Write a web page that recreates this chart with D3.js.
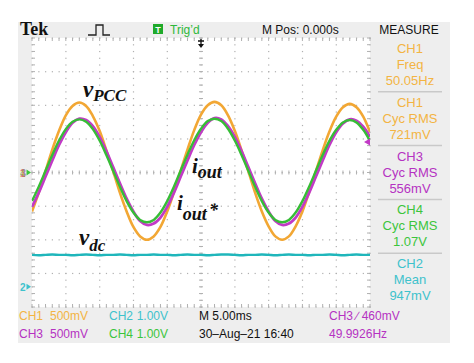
<!DOCTYPE html>
<html>
<head>
<meta charset="utf-8">
<script src="https://cdn.jsdelivr.net/npm/d3@7"></script>
<style>
  body { margin: 0; background: #fff; }
  svg { display: block; }
  .ui { font-family: "Liberation Sans Narrow", "Arial Narrow", "Liberation Sans", sans-serif; }
  .math { font-family: "Liberation Serif", "Times New Roman", serif; font-style: italic; font-weight: bold; }
</style>
</head>
<body>
<svg id="scope" width="474" height="363"></svg>
<script>
// time base, ms (10 div x 5 ms, M Pos 0)
var timeMs = [-25,-24,-23,-22,-21,-20,-19,-18,-17,-16,-15,-14,-13,-12,-11,-10,-9,-8,-7,-6,
  -5,-4,-3,-2,-1,0,1,2,3,4,5,6,7,8,9,10,11,12,13,14,15,16,17,18,19,20,21,22,23,24,25];

// CH1 v_pcc (V)
var ch1Volts = [-0.58,-0.30,0.02,0.34,0.62,0.85,0.99,1.04,0.99,0.84,0.62,0.33,0.02,-0.30,-0.58,-0.81,-0.95,-1.00,-0.95,-0.81,
  -0.58,-0.29,0.03,0.34,0.63,0.86,1.00,1.05,1.00,0.85,0.62,0.33,0.02,-0.30,-0.58,-0.80,-0.95,-1.00,-0.95,-0.80,
  -0.58,-0.29,0.02,0.33,0.61,0.83,0.97,1.02,0.97,0.83,0.60];
// CH2 v_dc (V)
var ch2Volts = [0.95,0.94,0.95,0.96,0.95,0.95,0.94,0.95,0.96,0.95,0.94,0.95,0.95,0.96,0.95,0.94,0.95,0.95,0.96,0.95,
  0.95,0.94,0.95,0.96,0.95,0.95,0.94,0.95,0.96,0.96,0.95,0.94,0.95,0.95,0.96,0.95,0.94,0.95,0.96,0.95,
  0.95,0.94,0.95,0.95,0.96,0.95,0.94,0.95,0.96,0.95,0.95];
// CH3 i_out* (V)
var ch3Volts = [-0.51,-0.30,-0.06,0.18,0.41,0.60,0.74,0.80,0.78,0.69,0.53,0.32,0.08,-0.16,-0.39,-0.58,-0.72,-0.78,-0.76,-0.67,
  -0.51,-0.30,-0.06,0.18,0.41,0.60,0.74,0.81,0.79,0.69,0.53,0.32,0.08,-0.16,-0.39,-0.58,-0.72,-0.78,-0.76,-0.67,
  -0.51,-0.30,-0.06,0.18,0.41,0.60,0.73,0.79,0.77,0.68,0.53];
// CH4 i_out (V)
var ch4Volts = [-0.85,-0.42,0.05,0.52,0.95,1.29,1.51,1.58,1.51,1.29,0.95,0.52,0.05,-0.42,-0.85,-1.19,-1.41,-1.48,-1.41,-1.19,
  -0.85,-0.42,0.06,0.53,0.96,1.30,1.53,1.60,1.53,1.30,0.95,0.52,0.05,-0.42,-0.85,-1.19,-1.41,-1.48,-1.41,-1.19,
  -0.85,-0.42,0.05,0.52,0.94,1.27,1.49,1.56,1.49,1.27,0.94];

var voltsPerDiv = {ch1: 0.5, ch2: 1.0, ch3: 0.5, ch4: 1.0};
var groundDiv = {ch1: 0, ch2: -3.4, ch3: 0, ch4: 0};

var measureCh = ['CH1', 'CH1', 'CH3', 'CH4', 'CH2'];
var measureType = ['Freq', 'Cyc RMS', 'Cyc RMS', 'Cyc RMS', 'Mean'];
var measureVal = ['50.05Hz', '721mV', '556mV', '1.07V', '947mV'];

var ORANGE = '#f2a734', CYAN = '#1fb6bb', MAGENTA = '#c23ac6', GREEN = '#36bd36';
var T_ORANGE = '#f3b443', T_CYAN = '#3ec2cc', T_MAGENTA = '#b532c2', T_GREEN = '#3cc53c';
var chColor = {CH1: T_ORANGE, CH2: T_CYAN, CH3: T_MAGENTA, CH4: T_GREEN};

var svg = d3.select('#scope');

var plotL = 32, plotR = 370, plotT = 38, plotB = 307;
var x = d3.scaleLinear().domain([-25, 25]).range([plotL, plotR]);
var y = d3.scaleLinear().domain([-4, 4]).range([plotB, plotT]);

// screen frame
svg.append('rect').attr('x', 18).attr('y', 22).attr('width', 432).attr('height', 321).attr('fill', '#eeeeee');
svg.append('rect').attr('x', plotL).attr('y', plotT).attr('width', plotR - plotL).attr('height', plotB - plotT).attr('fill', '#fff');

// graticule
var grid = svg.append('g').attr('fill', '#b0b0b0');
var xDivs = d3.range(-25, 25.01, 5), yDivs = d3.range(-4, 4.01, 1);
var ySub = d3.range(-4, 4.01, 0.2), xSub = d3.range(-25, 25.01, 1);
xDivs.forEach(function(t) {
  ySub.forEach(function(v) {
    grid.append('rect').attr('x', x(t) - 0.5).attr('y', y(v) - 0.5).attr('width', 1.2).attr('height', 1.2);
  });
});
yDivs.forEach(function(v) {
  xSub.forEach(function(t) {
    grid.append('rect').attr('x', x(t) - 0.5).attr('y', y(v) - 0.5).attr('width', 1.2).attr('height', 1.2);
  });
});
// minor ticks on centre lines and edges
var ticks = svg.append('g').attr('stroke', '#b0b0b0').attr('stroke-width', 1);
xSub.forEach(function(t) {
  ticks.append('line').attr('x1', x(t)).attr('x2', x(t)).attr('y1', y(0) - 2).attr('y2', y(0) + 2);
  ticks.append('line').attr('x1', x(t)).attr('x2', x(t)).attr('y1', plotT).attr('y2', plotT + 3);
  ticks.append('line').attr('x1', x(t)).attr('x2', x(t)).attr('y1', plotB - 3).attr('y2', plotB);
});
ySub.forEach(function(v) {
  ticks.append('line').attr('x1', x(0) - 2).attr('x2', x(0) + 2).attr('y1', y(v)).attr('y2', y(v));
  ticks.append('line').attr('x1', plotL).attr('x2', plotL + 3).attr('y1', y(v)).attr('y2', y(v));
  ticks.append('line').attr('x1', plotR - 3).attr('x2', plotR).attr('y1', y(v)).attr('y2', y(v));
});

// traces
svg.append('clipPath').attr('id', 'plotclip').append('rect')
  .attr('x', plotL).attr('y', plotT).attr('width', plotR - plotL).attr('height', plotB - plotT);
var traces = svg.append('g').attr('clip-path', 'url(#plotclip)');

function trace(values, ch, color, w) {
  var line = d3.line()
    .x(function(d, i) { return x(timeMs[i]); })
    .y(function(d) { return y(d / voltsPerDiv[ch] + groundDiv[ch]); })
    .curve(d3.curveCatmullRom);
  traces.append('path').attr('d', line(values))
    .attr('fill', 'none').attr('stroke', color).attr('stroke-width', w)
    .attr('stroke-linejoin', 'round');
}
trace(ch2Volts, 'ch2', CYAN, 2.4);
trace(ch1Volts, 'ch1', ORANGE, 2.6);
trace(ch3Volts, 'ch3', MAGENTA, 2.8);
trace(ch4Volts, 'ch4', GREEN, 2.4);

// trigger markers
svg.append('path').attr('d', 'M198,41H204M201,39V45').attr('stroke', '#111').attr('stroke-width', 1.3);
svg.append('path').attr('d', 'M198,44L204,44L201,48Z').attr('fill', '#111');
svg.append('path').attr('d', 'M364,142L370,138.5L370,145.5Z').attr('fill', MAGENTA);

// ground markers on the left strip
var gm = svg.append('g').attr('class', 'ui').attr('font-size', 10).attr('font-weight', 'bold');
gm.append('text').attr('x', 20).attr('y', y(0) + 4).attr('fill', T_ORANGE).text('1');
gm.append('text').attr('x', 20.5).attr('y', y(0) + 4).attr('fill', T_MAGENTA).attr('opacity', 0.6).text('3');
gm.append('text').attr('x', 20).attr('y', y(0) + 4).attr('fill', '#7a9a50').attr('opacity', 0.6).text('4');
svg.append('path').attr('d', 'M26.5,' + (y(0) - 3) + 'L31,' + y(0) + 'L26.5,' + (y(0) + 3) + 'Z').attr('fill', T_GREEN);
gm.append('text').attr('x', 20).attr('y', y(groundDiv.ch2) + 4).attr('fill', T_CYAN).text('2');
svg.append('path').attr('d', 'M26.5,' + (y(groundDiv.ch2) - 3) + 'L31,' + y(groundDiv.ch2) + 'L26.5,' + (y(groundDiv.ch2) + 3) + 'Z').attr('fill', T_CYAN);

// top bar
svg.append('text').attr('x', 20).attr('y', 35).attr('font-family', '"Liberation Serif", serif')
  .attr('font-weight', 'bold').attr('font-size', 18).attr('fill', '#111').text('Tek');
svg.append('path').attr('d', 'M88,35H96V25H103V35H110').attr('fill', 'none').attr('stroke', '#222').attr('stroke-width', 1.3);
svg.append('rect').attr('x', 153).attr('y', 24).attr('width', 10).attr('height', 10).attr('fill', '#1faa2a');
svg.append('text').attr('class', 'ui').attr('x', 158).attr('y', 32.5).attr('text-anchor', 'middle')
  .attr('font-size', 9).attr('font-weight', 'bold').attr('fill', '#fff').text('T');
svg.append('text').attr('class', 'ui').attr('x', 170).attr('y', 34).attr('font-size', 12).attr('fill', '#2fb83a').text('Trig\u2019d');
svg.append('text').attr('class', 'ui').attr('x', 262).attr('y', 34).attr('font-size', 12).attr('fill', '#111').text('M Pos: 0.000s');
svg.append('text').attr('class', 'ui').attr('x', 409).attr('y', 34).attr('text-anchor', 'middle')
  .attr('font-size', 12).attr('fill', '#111').text('MEASURE');

// measure panel
var boxH = (plotB - plotT) / 5;
measureCh.forEach(function(ch, i) {
  var by = plotT + i * boxH;
  var g = svg.append('g').attr('class', 'ui').attr('font-size', 13).attr('text-anchor', 'middle').attr('fill', chColor[ch]);
  g.append('text').attr('x', 410).attr('y', by + 15).text(ch);
  g.append('text').attr('x', 410).attr('y', by + 31).text(measureType[i]);
  g.append('text').attr('x', 410).attr('y', by + 47).text(measureVal[i]);
  if (i > 0) {
    svg.append('line').attr('x1', 378).attr('x2', 442).attr('y1', by).attr('y2', by)
      .attr('stroke', '#c9c9c9').attr('stroke-width', 1.5);
  }
});

// bottom status
var st = svg.append('g').attr('class', 'ui').attr('font-size', 12);
function status(tx, ty, txt, col, anchor) {
  st.append('text').attr('x', tx).attr('y', ty).attr('fill', col).attr('text-anchor', anchor || 'start').text(txt);
}
status(19, 320, 'CH1', T_ORANGE); status(88, 320, '500mV', T_ORANGE, 'end');
status(19, 338, 'CH3', T_MAGENTA); status(88, 338, '500mV', T_MAGENTA, 'end');
status(109, 320, 'CH2', T_CYAN); status(168, 320, '1.00V', T_CYAN, 'end');
status(109, 338, 'CH4', T_GREEN); status(168, 338, '1.00V', T_GREEN, 'end');
status(199, 320, 'M 5.00ms', '#111');
status(199, 338, '30\u2013Aug\u201321 16:40', '#111');
status(329, 320, 'CH3 \u2215 460mV', T_MAGENTA);
status(329, 338, '49.9926Hz', T_MAGENTA);

// signal labels
var lab = svg.append('g').attr('class', 'math').attr('fill', '#111');
function label(lx, ly, main, mainSize, sub, subSize, dy) {
  var t = lab.append('text').attr('x', lx).attr('y', ly);
  t.append('tspan').attr('font-size', mainSize).text(main);
  t.append('tspan').attr('font-size', subSize).attr('dy', dy).text(sub);
}
label(83, 97, 'v', 23, 'PCC', 17, 4);
label(192, 173, 'i', 21, 'out', 18, 5);
label(177, 210, 'i', 21, 'out', 18, 10);
lab.append('text').attr('x', 209).attr('y', 216).attr('font-size', 18).text('*');
label(79, 245, 'v', 23, 'dc', 17, 6);
</script>
</body>
</html>
